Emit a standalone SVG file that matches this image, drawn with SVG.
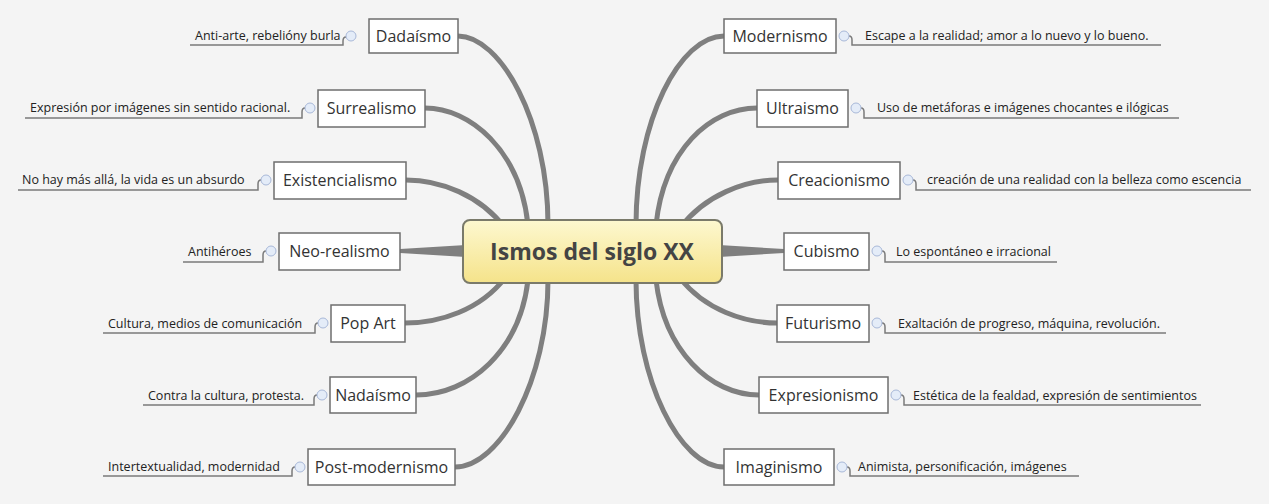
<svg xmlns="http://www.w3.org/2000/svg" width="1269" height="504" viewBox="0 0 1269 504">
<style>
.bg{fill:#f4f4f4}
.c{fill:none;stroke:#7f7f7f;stroke-width:5;stroke-linecap:round}
.n rect{fill:#fff;stroke:#6e6e6e;stroke-width:1.5}
.n text{font-family:"Open Sans","Liberation Sans",sans-serif;font-size:16px;fill:#333;text-anchor:middle}
.l{fill:none;stroke:#7a7a7a;stroke-width:1.5}
.t{font-family:"Open Sans","Liberation Sans",sans-serif;font-size:12.5px;fill:#222}
.dot{fill:#e4ecf8;stroke:#a8b8d8;stroke-width:1}
</style>
<defs>
<linearGradient id="g" x1="0" y1="0" x2="0" y2="1">
<stop offset="0" stop-color="#fdf8d0"/><stop offset="1" stop-color="#f5e38a"/>
</linearGradient>
</defs>
<rect class="bg" width="1269" height="504"/>
<g id="connectors">
<path class="c" d="M548,225 C548,120 500,36 458,36"/>
<path class="c" d="M528,225 C520,150 470,108 425,108"/>
<path class="c" d="M505,228 C480,195 440,180 406,180"/>
<path d="M466,245 L400,249 L400,253 L466,257 Z" fill="#7f7f7f"/>
<path class="c" d="M505,278 C480,310 440,323 405,323"/>
<path class="c" d="M528,280 C520,350 470,395 416,395"/>
<path class="c" d="M548,280 C548,380 500,467 455,467"/>
<path class="c" d="M636,225 C636,120 680,36 724,36"/>
<path class="c" d="M656,225 C664,150 710,108 757,108"/>
<path class="c" d="M680,228 C705,195 745,180 778,180"/>
<path d="M719,245 L784,249 L784,253 L719,257 Z" fill="#7f7f7f"/>
<path class="c" d="M680,278 C705,310 745,323 777,323"/>
<path class="c" d="M656,280 C664,350 710,395 759,395"/>
<path class="c" d="M636,280 C636,380 680,467 724,467"/>
<path class="l" d="M346,37 Q343,37 343,41 L343,45 L190,45"/>
<path class="l" d="M305,108 Q302,108 302,112 L302,118 L25,118"/>
<path class="l" d="M261,180 Q258,180 258,184 L258,190 L18,190"/>
<path class="l" d="M266,251 Q263,251 263,255 L263,262 L183,262"/>
<path class="l" d="M318,323 Q315,323 315,327 L315,333 L103,333"/>
<path class="l" d="M317,395 Q314,395 314,399 L314,405 L143,405"/>
<path class="l" d="M295,467 Q292,467 292,471 L292,476 L103,476"/>
<path class="l" d="M849,36 Q852,36 852,40 L852,45 L1161,45"/>
<path class="l" d="M861,108 Q864,108 864,112 L864,118 L1179,118"/>
<path class="l" d="M913,180 Q916,180 916,184 L916,190 L1251,190"/>
<path class="l" d="M882,251 Q885,251 885,255 L885,262 L1057,262"/>
<path class="l" d="M882,323 Q885,323 885,327 L885,333 L1166,333"/>
<path class="l" d="M901,395 Q904,395 904,399 L904,405 L1201,405"/>
<path class="l" d="M847,467 Q850,467 850,471 L850,476 L1079,476"/>
<circle class="dot" cx="351" cy="36" r="5"/><circle class="dot" cx="310" cy="108" r="5"/>
<circle class="dot" cx="266" cy="180" r="5"/><circle class="dot" cx="271" cy="251" r="5"/>
<circle class="dot" cx="323" cy="323" r="5"/><circle class="dot" cx="322" cy="395" r="5"/>
<circle class="dot" cx="300" cy="467" r="5"/>
<circle class="dot" cx="844" cy="36" r="5"/><circle class="dot" cx="856" cy="108" r="5"/>
<circle class="dot" cx="908" cy="180" r="5"/><circle class="dot" cx="877" cy="251" r="5"/>
<circle class="dot" cx="877" cy="323" r="5"/><circle class="dot" cx="896" cy="395" r="5"/>
<circle class="dot" cx="842" cy="467" r="5"/>
</g>
<g id="center"><rect x="463" y="220" width="259" height="63" rx="7" fill="url(#g)" stroke="#7a7a6a" stroke-width="2"/>
<text x="592" y="260" text-anchor="middle" font-family="'Open Sans','Liberation Sans',sans-serif" font-size="23" font-weight="bold" fill="#444">Ismos del siglo XX</text></g>
<g id="dadaismo" class="n"><rect x="369" y="19" width="89" height="34"/><text x="413.5" y="42">Dadaísmo</text></g>
<g id="surrealismo" class="n"><rect x="318" y="90" width="107" height="37"/><text x="371.5" y="114">Surrealismo</text></g>
<g id="existencialismo" class="n"><rect x="274" y="162" width="132" height="37"/><text x="340" y="186">Existencialismo</text></g>
<g id="neorealismo" class="n"><rect x="279" y="233" width="121" height="37"/><text x="339.5" y="257">Neo-realismo</text></g>
<g id="popart" class="n"><rect x="331" y="305" width="74" height="37"/><text x="368" y="329">Pop Art</text></g>
<g id="nadaismo" class="n"><rect x="330" y="377" width="86" height="36"/><text x="373" y="401">Nadaísmo</text></g>
<g id="postmodernismo" class="n"><rect x="308" y="449" width="147" height="36"/><text x="381.5" y="473">Post-modernismo</text></g>
<g id="modernismo" class="n"><rect x="724" y="19" width="112" height="34"/><text x="780" y="42">Modernismo</text></g>
<g id="ultraismo" class="n"><rect x="757" y="90" width="91" height="37"/><text x="802.5" y="114">Ultraismo</text></g>
<g id="creacionismo" class="n"><rect x="778" y="162" width="122" height="37"/><text x="839" y="186">Creacionismo</text></g>
<g id="cubismo" class="n"><rect x="784" y="233" width="85" height="37"/><text x="826.5" y="257">Cubismo</text></g>
<g id="futurismo" class="n"><rect x="777" y="305" width="92" height="37"/><text x="823" y="329">Futurismo</text></g>
<g id="expresionismo" class="n"><rect x="759" y="377" width="129" height="36"/><text x="823.5" y="401">Expresionismo</text></g>
<g id="imaginismo" class="n"><rect x="724" y="449" width="110" height="36"/><text x="779" y="473">Imaginismo</text></g>
<g id="labels">
<text class="t" x="195" y="40">Anti-arte, rebelióny burla</text>
<text class="t" x="30" y="112">Expresión por imágenes sin sentido racional.</text>
<text class="t" x="22" y="184">No hay más allá, la vida es un absurdo</text>
<text class="t" x="188" y="256">Antihéroes</text>
<text class="t" x="108" y="328">Cultura, medios de comunicación</text>
<text class="t" x="148" y="400">Contra la cultura, protesta.</text>
<text class="t" x="108" y="471">Intertextualidad, modernidad</text>
<text class="t" x="865" y="40">Escape a la realidad; amor a lo nuevo y lo bueno.</text>
<text class="t" x="877" y="112">Uso de metáforas e imágenes chocantes e ilógicas</text>
<text class="t" x="927" y="184">creación de una realidad con la belleza como escencia</text>
<text class="t" x="896" y="256">Lo espontáneo e irracional</text>
<text class="t" x="898" y="328">Exaltación de progreso, máquina, revolución.</text>
<text class="t" x="913" y="400">Estética de la fealdad, expresión de sentimientos</text>
<text class="t" x="858" y="471">Animista, personificación, imágenes</text>
</g>
</svg>
